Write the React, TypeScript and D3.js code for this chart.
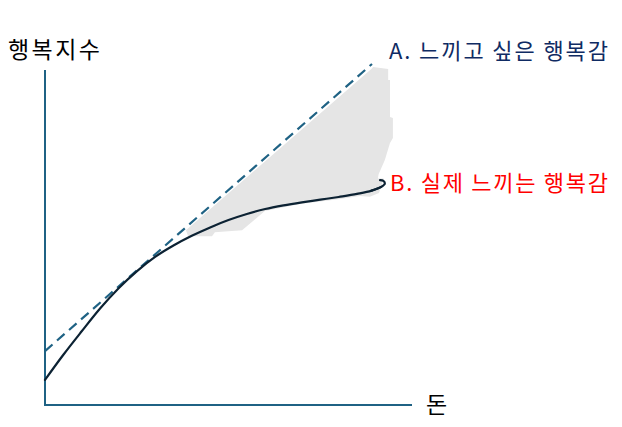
import React from "react";
import * as d3 from "d3";

// Data (x: money 0–100, y: happiness 0–100)
const wantedLine: [number, number][] = [
  [0, 16.1],
  [89.1, 101.8],
];

const actualCurve: [number, number][] = [
  [0, 7.5],
  [5, 15.0],
  [10, 22.0],
  [15, 28.8],
  [20, 34.8],
  [25, 39.9],
  [30, 44.2],
  [35, 47.6],
  [40, 50.5],
  [45, 53.0],
  [50, 55.2],
  [55, 57.0],
  [60, 58.5],
  [65, 59.6],
  [70, 60.5],
  [75, 61.3],
  [80, 62.1],
  [85, 63.0],
  [89, 64.0],
  [91.6, 65.1],
];

const actualHook: [number, number][] = [
  [89, 64.0],
  [91.6, 65.1],
  [92.6, 66.1],
  [92.2, 66.9],
  [91.3, 67.1],
];

const gapArea: [number, number][] = [
  [89.4, 100.9],
  [93.5, 100.3],
  [93.5, 97.0],
  [94.0, 97.0],
  [94.0, 86.0],
  [94.8, 85.7],
  [94.8, 79.7],
  [94.0, 78.2],
  [92.6, 73.1],
  [90.9, 68.9],
  [90.7, 67.6],
  [92.3, 67.6],
  [91.0, 63.3],
  [88.5, 62.2],
  [85.8, 62.4],
  [80.4, 61.5],
  [69.5, 60.0],
  [59.9, 57.9],
  [53.7, 52.2],
  [46.3, 51.6],
  [45.5, 50.4],
  [39.0, 50.4],
  [38.4, 52.2],
  [89.0, 100.4],
];

const yAxisLabel = "행복지수";
const xAxisLabel = "돈";
const labelA = "A. 느끼고 싶은 행복감";
const labelB = "B. 실제 느끼는 행복감";

const W = 622;
const H = 427;
const FONT = "'Noto Sans CJK KR', 'Noto Sans', sans-serif";

export default function App() {
  const x = d3.scaleLinear().domain([0, 100]).range([45, 412]);
  const y = d3.scaleLinear().domain([0, 100]).range([405, 70]);

  const line = d3
    .line<[number, number]>()
    .x((d) => x(d[0]))
    .y((d) => y(d[1]));
  const smooth = d3
    .line<[number, number]>()
    .x((d) => x(d[0]))
    .y((d) => y(d[1]))
    .curve(d3.curveMonotoneX);
  const hook = d3
    .line<[number, number]>()
    .x((d) => x(d[0]))
    .y((d) => y(d[1]))
    .curve(d3.curveCatmullRom.alpha(0.5));
  const poly = d3
    .line<[number, number]>()
    .x((d) => x(d[0]))
    .y((d) => y(d[1]))
    .curve(d3.curveLinearClosed);

  const axisColor = "#1f6284";

  return (
    <svg
      width={W}
      height={H}
      style={{ position: "absolute", left: 0, top: 0, background: "#fff" }}
    >
      <path d={poly(gapArea) || ""} fill="#e5e5e5" stroke="none" />
      {/* axes */}
      <line x1={x(0)} x2={x(0)} y1={y(100)} y2={y(0) + 1} stroke={axisColor} strokeWidth={2} />
      <line x1={x(0)} x2={x(100)} y1={y(0)} y2={y(0)} stroke={axisColor} strokeWidth={2} />
      {/* wanted happiness */}
      <path
        d={line(wantedLine) || ""}
        fill="none"
        stroke="#1f6284"
        strokeWidth={2.2}
        strokeDasharray="10,6"
      />
      {/* actual happiness */}
      <path
        d={smooth(actualCurve) || ""}
        fill="none"
        stroke="#0c2233"
        strokeWidth={2.2}
        strokeLinecap="round"
      />
      <path
        d={hook(actualHook) || ""}
        fill="none"
        stroke="#0c2233"
        strokeWidth={2.2}
        strokeLinecap="round"
      />
      <text x={8} y={58} fontFamily={FONT} fontSize={23} fill="#000" textLength={92} lengthAdjust="spacing">
        {yAxisLabel}
      </text>
      <text x={426} y={413} fontFamily={FONT} fontSize={23} fill="#000">
        {xAxisLabel}
      </text>
      <text x={389} y={59} fontFamily={FONT} fontSize={22} fill="#0f2b63" textLength={219} lengthAdjust="spacing">
        {labelA}
      </text>
      <text x={390} y={191} fontFamily={FONT} fontSize={22} fill="#ff0000" textLength={218} lengthAdjust="spacing">
        {labelB}
      </text>
    </svg>
  );
}
